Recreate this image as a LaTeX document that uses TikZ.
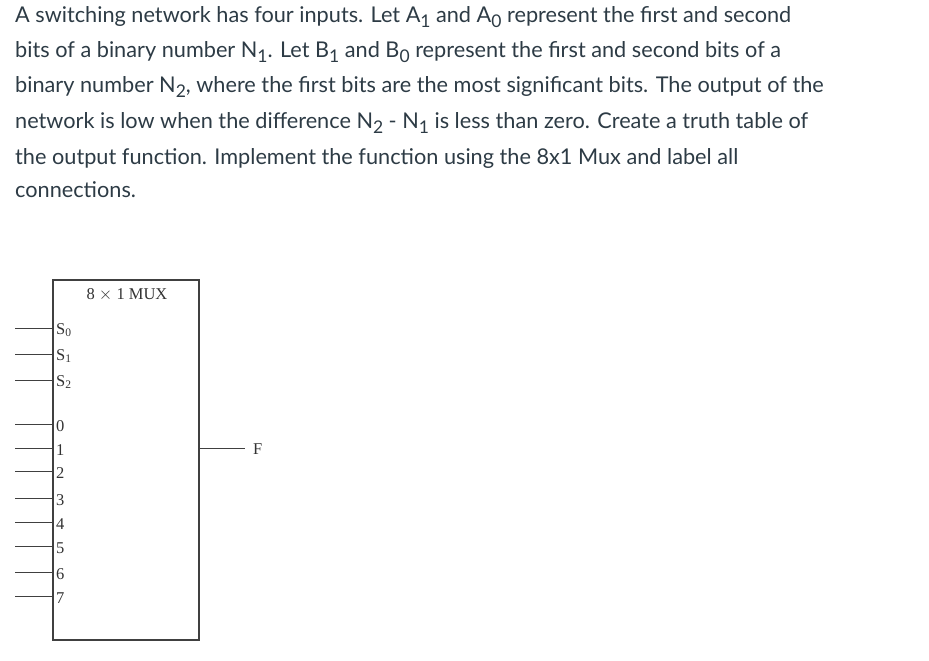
\documentclass[tikz,border=0pt]{standalone}
\usepackage{fontspec}
\setmainfont{Lato}
\newfontfamily\tms{Liberation Serif}
\definecolor{txt}{HTML}{2D3B45}
\definecolor{wire}{HTML}{404040}
\newcommand{\sbs}[1]{\raisebox{-4.5pt}{\fontsize{17.5}{17.5}\selectfont #1}}
\tikzset{para/.style={anchor=west,inner sep=0pt,text=txt,font=\fontsize{21.7}{21.7}\selectfont},
 pin/.style={anchor=west,inner sep=0pt,font=\tms\fontsize{16.5}{16.5}\selectfont,text=black!80},
 wireline/.style={draw=wire,line width=0.9pt}}
\begin{document}
\begin{tikzpicture}[x=1pt,y=-1pt]
\useasboundingbox (0,0) rectangle (929,661);
\node[para] (l1) at (15,17) {A switching network has four inputs. Let A\sbs{1} and A\sbs{0} represent the first and second};
\node[para] (l2) at (15,52) {bits of a binary number N\sbs{1}. Let B\sbs{1} and B\sbs{0} represent the first and second bits of a};
\node[para] (l3) at (15,87) {binary number N\sbs{2}, where the first bits are the most significant bits. The output of the};
\node[para] (l4) at (15,123) {network is low when the difference N\sbs{2} - N\sbs{1} is less than zero. Create a truth table of};
\node[para] (l5) at (15,158) {the output function. Implement the function using the 8x1 Mux and label all};
\node[para] (l6) at (15,190) {connections.};
\draw[wireline,line width=1.2pt] (53,280) rectangle (199,640);
\node[pin,anchor=center] (title) at (127,295) {8 $\times$ 1 MUX};
\foreach \y/\t [count=\i] in {328/S\textsubscript{0},354/S\textsubscript{1},380/S\textsubscript{2},424/0,448/1,471/2,498/3,522/4,546/5,572/6,596/7}{
  \coordinate (w\i) at (15,\y);
  \node[pin] (p\i) at (56,\y+2) {\t};
  \draw[wireline] (w\i) -- (53,\y);
}
\coordinate (fo) at (199,448);
\coordinate (fe) at (245,448);
\node[pin] (F) at (253,449) {F};
\draw[wireline] (fo) -- (fe);
\end{tikzpicture}
\end{document}
